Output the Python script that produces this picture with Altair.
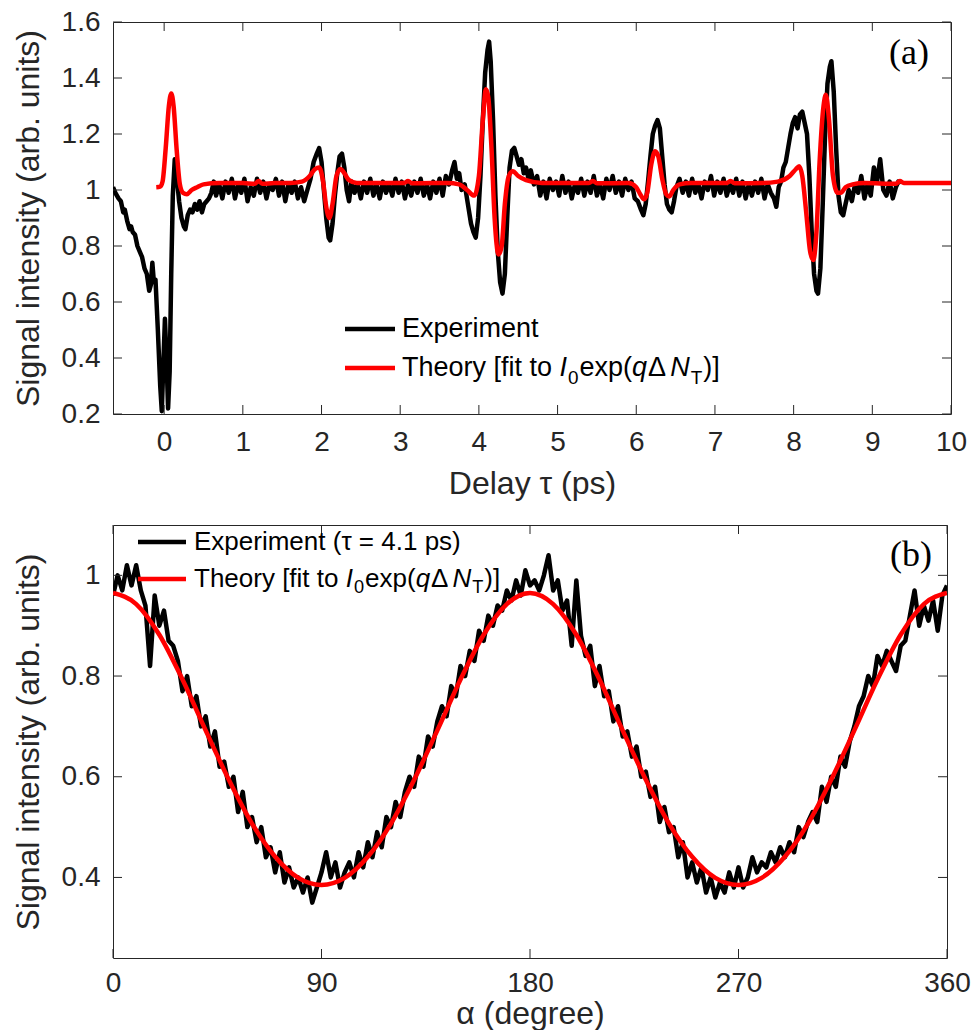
import altair as alt
import pandas as pd

# ---------------- Panel (a): signal vs delay ----------------
A_EXP_T = [-0.65, -0.62, -0.58, -0.55, -0.52, -0.50, -0.47, -0.44, -0.42, -0.40,
           -0.37, -0.34, -0.31, -0.28, -0.25, -0.22, -0.19, -0.17, -0.15, -0.13,
           -0.11, -0.08, -0.05, -0.03, -0.01, 0.01, 0.03, 0.05, 0.07, 0.09,
           0.11, 0.135, 0.16, 0.19, 0.22, 0.25, 0.27, 0.30, 0.33, 0.36,
           0.39, 0.42, 0.45, 0.48, 0.51, 0.54, 0.57, 0.60, 0.63, 0.66,
           0.70, 0.74, 0.78, 0.82, 0.86, 0.90, 0.94, 0.98, 1.02, 1.06,
           1.10, 1.14, 1.18, 1.22, 1.26, 1.30, 1.34, 1.38, 1.42, 1.46,
           1.50, 1.54, 1.58, 1.62, 1.66, 1.70, 1.74, 1.78, 1.82, 1.86,
           1.90, 1.94, 1.97, 2.00, 2.03, 2.06, 2.09, 2.11, 2.14, 2.17,
           2.20, 2.23, 2.26, 2.29, 2.32, 2.35, 2.38, 2.42, 2.46, 2.50,
           2.54, 2.58, 2.62, 2.66, 2.70, 2.74, 2.78, 2.82, 2.86, 2.90,
           2.94, 2.98, 3.02, 3.06, 3.10, 3.14, 3.18, 3.22, 3.26, 3.30,
           3.34, 3.38, 3.42, 3.46, 3.50, 3.54, 3.58, 3.62, 3.66, 3.69,
           3.72, 3.75, 3.78, 3.82, 3.86, 3.90, 3.93, 3.96, 3.99, 4.02,
           4.05, 4.08, 4.11, 4.13, 4.15, 4.18, 4.21, 4.24, 4.27, 4.30,
           4.33, 4.36, 4.39, 4.42, 4.45, 4.48, 4.51, 4.54, 4.57, 4.60,
           4.63, 4.66, 4.70, 4.74, 4.78, 4.82, 4.86, 4.90, 4.94, 4.98,
           5.02, 5.06, 5.10, 5.14, 5.18, 5.22, 5.26, 5.30, 5.34, 5.38,
           5.42, 5.46, 5.50, 5.54, 5.58, 5.62, 5.66, 5.70, 5.74, 5.78,
           5.82, 5.86, 5.90, 5.94, 5.98, 6.02, 6.06, 6.09, 6.12, 6.15,
           6.18, 6.21, 6.24, 6.27, 6.30, 6.33, 6.36, 6.39, 6.42, 6.45,
           6.48, 6.51, 6.55, 6.59, 6.63, 6.67, 6.71, 6.75, 6.79, 6.83,
           6.87, 6.91, 6.95, 6.99, 7.03, 7.07, 7.11, 7.15, 7.19, 7.23,
           7.27, 7.31, 7.35, 7.39, 7.43, 7.47, 7.51, 7.55, 7.59, 7.63,
           7.67, 7.71, 7.75, 7.78, 7.81, 7.84, 7.87, 7.90, 7.93, 7.96,
           7.99, 8.02, 8.05, 8.08, 8.11, 8.14, 8.17, 8.20, 8.23, 8.26,
           8.29, 8.31, 8.34, 8.37, 8.40, 8.43, 8.46, 8.48, 8.51, 8.54,
           8.57, 8.60, 8.63, 8.66, 8.70, 8.74, 8.78, 8.82, 8.86, 8.90,
           8.94, 8.98, 9.02, 9.06, 9.10, 9.14, 9.18, 9.22, 9.26, 9.30,
           9.33, 9.35]
A_EXP_V = [1.01, 0.99, 0.97, 0.96, 0.92, 0.93, 0.89, 0.86, 0.87, 0.85,
           0.84, 0.80, 0.78, 0.76, 0.72, 0.70, 0.64, 0.66, 0.74, 0.67,
           0.68, 0.50, 0.30, 0.21, 0.38, 0.54, 0.40, 0.22, 0.35, 0.70,
           0.98, 1.11, 1.05, 0.96, 0.90, 0.87, 0.86, 0.91, 0.93, 0.92,
           0.95, 0.93, 0.96, 0.92, 0.95, 0.96, 0.97, 0.99, 1.03, 0.98,
           1.02, 0.97, 1.03, 0.99, 1.04, 0.97, 1.02, 0.99, 1.04, 0.96,
           1.01, 0.98, 1.04, 0.99, 1.03, 0.97, 1.02, 1.00, 1.04, 0.98,
           1.03, 0.96, 1.02, 0.99, 1.03, 0.97, 1.01, 0.96, 1.00, 1.04,
           1.10, 1.13, 1.15, 1.10, 1.00, 0.90, 0.83, 0.82, 0.88, 0.98,
           1.06, 1.12, 1.13, 1.08, 1.00, 0.96, 1.03, 0.99, 1.02, 0.97,
           1.03, 0.99, 1.04, 0.98, 1.02, 0.97, 1.03, 0.99, 1.02, 0.98,
           1.04, 0.99, 1.03, 0.97, 1.02, 0.98, 1.03, 0.99, 1.04, 0.98,
           1.02, 0.97, 1.03, 0.99, 1.04, 0.98, 1.05, 1.02, 1.07, 1.10,
           1.04, 1.06, 1.00, 1.02, 0.95, 0.88, 0.85, 0.83, 0.90, 1.05,
           1.25, 1.42, 1.50, 1.53, 1.46, 1.25, 0.98, 0.78, 0.67, 0.63,
           0.70, 0.90, 1.08, 1.14, 1.15, 1.12, 1.09, 1.11, 1.06, 1.08,
           1.04, 1.07, 1.02, 1.05, 0.98, 1.03, 0.97, 1.04, 1.00, 1.03,
           0.98, 1.05, 0.99, 1.03, 0.97, 1.02, 0.99, 1.04, 0.98, 1.03,
           0.99, 1.05, 0.98, 1.02, 0.97, 1.04, 1.00, 1.05, 0.99, 1.03,
           0.98, 1.04, 1.00, 1.03, 0.97, 0.96, 0.93, 0.91, 0.95, 1.03,
           1.12, 1.20, 1.23, 1.25, 1.22, 1.12, 1.02, 0.95, 0.93, 0.92,
           0.96, 1.01, 1.04, 0.99, 1.03, 0.98, 1.04, 0.99, 1.02, 0.97,
           1.03, 1.00, 1.05, 0.98, 1.03, 0.99, 1.04, 0.98, 1.02, 0.99,
           1.04, 0.98, 1.03, 0.97, 1.02, 0.98, 1.03, 0.99, 1.04, 0.97,
           1.02, 0.99, 0.97, 0.94, 1.01, 1.03, 1.08, 1.10, 1.15, 1.20,
           1.24, 1.26, 1.22, 1.27, 1.28, 1.24, 1.20, 1.05, 0.85, 0.70,
           0.64, 0.63, 0.72, 0.95, 1.20, 1.38, 1.44, 1.46, 1.35, 1.15,
           0.98, 0.92, 0.91, 0.95, 1.00, 0.96, 1.02, 0.99, 1.05, 0.97,
           1.02, 0.98, 1.08, 1.03, 1.11, 1.00, 0.98, 1.03, 0.97, 1.01,
           1.03, 1.02]

A_TH_T = [-0.10, -0.05, -0.02, 0.02, 0.06, 0.09, 0.12, 0.16, 0.20, 0.24,
          0.29, 0.35, 0.42, 0.50, 0.70, 1.00, 1.15, 1.20, 1.25, 1.40,
          1.60, 1.75, 1.85, 1.92, 1.97, 2.02, 2.06, 2.10, 2.14, 2.19,
          2.24, 2.29, 2.35, 2.45, 2.70, 3.05, 3.10, 3.15, 3.40, 3.60,
          3.75, 3.85, 3.94, 4.00, 4.05, 4.09, 4.12, 4.16, 4.20, 4.25,
          4.29, 4.33, 4.38, 4.43, 4.50, 4.60, 4.80, 5.40, 5.45, 5.50,
          5.90, 6.00, 6.05, 6.10, 6.14, 6.19, 6.24, 6.28, 6.33, 6.38,
          6.42, 6.47, 6.55, 6.70, 7.15, 7.20, 7.25, 7.60, 7.80, 7.95,
          8.03, 8.07, 8.11, 8.16, 8.21, 8.25, 8.29, 8.33, 8.38, 8.41,
          8.45, 8.50, 8.56, 8.60, 8.66, 8.75, 8.90, 9.30, 9.35, 9.40,
          10.0]
A_TH_V = [1.010, 1.012, 1.030, 1.150, 1.300, 1.345, 1.300, 1.140, 1.020, 0.990,
          0.985, 1.000, 1.010, 1.020, 1.025, 1.025, 1.022, 1.032, 1.022, 1.025,
          1.025, 1.030, 1.050, 1.075, 1.080, 1.030, 0.940, 0.900, 0.950, 1.050,
          1.075, 1.060, 1.035, 1.025, 1.025, 1.025, 1.032, 1.024, 1.025, 1.025,
          1.020, 1.000, 0.980, 1.050, 1.250, 1.360, 1.330, 1.150, 0.900, 0.770,
          0.800, 0.950, 1.050, 1.067, 1.050, 1.035, 1.025, 1.025, 1.032, 1.024,
          1.025, 1.010, 0.985, 0.967, 0.990, 1.090, 1.138, 1.120, 1.040, 0.985,
          0.977, 1.000, 1.020, 1.025, 1.025, 1.032, 1.024, 1.025, 1.030, 1.050,
          1.075, 1.085, 1.050, 0.920, 0.780, 0.750, 0.850, 1.100, 1.300, 1.340,
          1.250, 1.050, 0.990, 0.990, 1.010, 1.020, 1.025, 1.022, 1.032, 1.025,
          1.025]

A_XTICKS = [0, 1, 2, 3, 4, 5, 6, 7, 8, 9, 10]
A_YTICKS = [0.2, 0.4, 0.6, 0.8, 1.0, 1.2, 1.4, 1.6]

# ---------------- Panel (b): signal vs angle ----------------
B_EXP_ALPHA = list(range(0, 361, 2))
B_EXP_V = [0.96, 1.00, 0.97, 1.02, 0.98, 1.02, 0.97, 0.94, 0.82, 0.96, 0.90,
           0.93, 0.87, 0.86, 0.83, 0.77, 0.80, 0.74, 0.76, 0.70, 0.72,
           0.66, 0.69, 0.62, 0.63, 0.58, 0.60, 0.53, 0.57, 0.50, 0.52,
           0.47, 0.50, 0.44, 0.46, 0.41, 0.45, 0.39, 0.42, 0.38, 0.40,
           0.37, 0.40, 0.35, 0.38, 0.41, 0.45, 0.40, 0.43, 0.38, 0.41,
           0.43, 0.40, 0.45, 0.42, 0.47, 0.44, 0.49, 0.46, 0.52, 0.50,
           0.55, 0.52, 0.57, 0.60, 0.58, 0.64, 0.62, 0.68, 0.66, 0.71,
           0.74, 0.72, 0.78, 0.76, 0.82, 0.80, 0.85, 0.83, 0.89, 0.87,
           0.92, 0.90, 0.94, 0.93, 0.97, 0.95, 0.99, 0.96, 1.01, 0.98,
           0.99, 0.97, 1.00, 1.04, 0.97, 0.99, 0.93, 0.95, 0.86, 0.99,
           0.88, 0.84, 0.86, 0.78, 0.82, 0.76, 0.77, 0.71, 0.74, 0.68,
           0.69, 0.64, 0.66, 0.60, 0.61, 0.56, 0.58, 0.51, 0.54, 0.49,
           0.50, 0.44, 0.47, 0.40, 0.43, 0.39, 0.42, 0.37, 0.40, 0.36,
           0.39, 0.37, 0.41, 0.38, 0.42, 0.38, 0.40, 0.44, 0.41, 0.43,
           0.42, 0.45, 0.43, 0.46, 0.44, 0.47, 0.45, 0.50, 0.48, 0.51,
           0.53, 0.51, 0.58, 0.55, 0.60, 0.58, 0.64, 0.62, 0.67, 0.70,
           0.74, 0.76, 0.80, 0.78, 0.84, 0.82, 0.85, 0.83, 0.81, 0.86,
           0.87, 0.92, 0.97, 0.90, 0.94, 0.91, 0.95, 0.89, 0.96, 0.98]
B_TH_ALPHA = [0, 10, 20, 30, 40, 50, 60, 70, 80, 90,
              100, 110, 120, 130, 140, 150, 160, 170, 180,
              190, 200, 210, 220, 230, 240, 250, 260, 270,
              280, 290, 300, 310, 320, 330, 340, 350, 360]
B_TH_V = [0.965, 0.943, 0.882, 0.793, 0.692, 0.594, 0.507, 0.441, 0.399, 0.385,
          0.399, 0.441, 0.507, 0.594, 0.692, 0.793, 0.882, 0.943, 0.965,
          0.943, 0.882, 0.793, 0.692, 0.594, 0.507, 0.441, 0.399, 0.385,
          0.399, 0.441, 0.507, 0.594, 0.692, 0.793, 0.882, 0.943, 0.965]
B_XTICKS = [0, 90, 180, 270, 360]
B_YTICKS = [0.4, 0.6, 0.8, 1.0]

# ---------------- styling ----------------
AX = "#262626"
FONT = "Liberation Sans"
RED = "#ff0000"
TICK_LEN = 9
LW = 4.5

W = {" ": .278, "[": .278, "]": .278, "(": .333, ")": .333, "T": .611, "h": .556,
     "e": .556, "o": .556, "r": .333, "y": .5, "f": .278, "i": .222, "t": .278,
     "x": .5, "p": .556, "0": .556, "I": .278, "q": .556, "N": .722, "Δ": .668}


def tw(s, fs):
    return sum(W.get(c, .55) for c in s) * fs


dummy = pd.DataFrame({"k": [0]})


def txt(s, x, y, fs=26, style="normal", color="#000000", font=FONT, align="left"):
    return alt.Chart(dummy).mark_text(
        text=s, font=font, fontSize=fs, fontStyle=style, align=align,
        baseline="middle", color=color
    ).encode(x=alt.value(x), y=alt.value(y))


def seg(x1, x2, y, color):
    return alt.Chart(dummy).mark_rule(color=color, strokeWidth=LW).encode(
        x=alt.value(x1), x2=alt.value(x2), y=alt.value(y))


def theory_label(x0, y, fs):
    sub = fs * 0.7
    parts = []
    x = x0
    parts.append(txt("Theory [fit to", x, y, fs=fs)); x += tw("Theory [fit to ", fs)
    parts.append(txt("I", x, y, fs=fs, style="italic")); x += tw("I", fs) + 1
    parts.append(txt("0", x, y + 0.36 * fs, fs=sub)); x += tw("0", sub) + 1
    parts.append(txt("exp(", x, y, fs=fs)); x += tw("exp(", fs)
    parts.append(txt("q", x, y, fs=fs, style="italic")); x += tw("q", fs) + 1
    parts.append(txt("Δ", x, y, fs=fs)); x += tw("Δ", fs) + 4
    parts.append(txt("N", x, y, fs=fs, style="italic")); x += tw("N", fs) + 1
    parts.append(txt("T", x, y + 0.36 * fs, fs=sub)); x += tw("T", sub) + 1
    parts.append(txt(")]", x, y, fs=fs))
    return parts


def make_panel(exp_df, th_df, xf, xticks, yticks, xscale, yscale, xaxis, yaxis, w, h, extra):
    X = lambda f: alt.X(f, scale=xscale, axis=xaxis)
    Y = lambda f: alt.Y(f, scale=yscale, axis=yaxis)
    exp = alt.Chart(exp_df).mark_line(color="#000000", strokeWidth=LW, strokeJoin="round", clip=True).encode(
        x=X(f"{xf}:Q"), y=Y("v:Q"))
    th = alt.Chart(th_df).mark_line(color=RED, strokeWidth=LW, strokeJoin="round", clip=True,
                                    interpolate="monotone").encode(x=X(f"{xf}:Q"), y=Y("v:Q"))
    dx = pd.DataFrame({xf: xticks})
    dy = pd.DataFrame({"v": yticks})
    tk = [
        alt.Chart(dx).mark_rule(color=AX, strokeWidth=1).encode(x=X(f"{xf}:Q"), y=alt.value(h), y2=alt.value(h - TICK_LEN)),
        alt.Chart(dx).mark_rule(color=AX, strokeWidth=1).encode(x=X(f"{xf}:Q"), y=alt.value(0), y2=alt.value(TICK_LEN)),
        alt.Chart(dy).mark_rule(color=AX, strokeWidth=1).encode(y=Y("v:Q"), x=alt.value(0), x2=alt.value(TICK_LEN)),
        alt.Chart(dy).mark_rule(color=AX, strokeWidth=1).encode(y=Y("v:Q"), x=alt.value(w - TICK_LEN), x2=alt.value(w)),
    ]
    return alt.layer(exp, th, *tk, *extra).properties(width=w, height=h)


# ---------------- Panel (a) ----------------
WA, HA = 838, 392
xa = alt.Scale(domain=[-0.65, 10], nice=False, zero=False)
ya = alt.Scale(domain=[0.2, 1.6], nice=False, zero=False)
xa_axis = alt.Axis(values=A_XTICKS, format="d", title="Delay τ (ps)", labelFlush=False,
                   labelOverlap=False, labelPadding=14, titlePadding=12)
ya_axis = alt.Axis(values=A_YTICKS, format=".1~f", title="Signal intensity (arb. units)",
                   labelOverlap=False, labelPadding=13, titlePadding=16)

a_extra = [seg(232, 282, 307, "#000000"), seg(232, 282, 346, RED), txt("Experiment", 289, 307, fs=27)]
a_extra += theory_label(289, 346, 27)
a_extra += [txt("(a)", WA - 22, 31, fs=36, font="Liberation Serif", align="right")]
panel_a = make_panel(pd.DataFrame({"t": A_EXP_T, "v": A_EXP_V}), pd.DataFrame({"t": A_TH_T, "v": A_TH_V}),
                     "t", A_XTICKS, A_YTICKS, xa, ya, xa_axis, ya_axis, WA, HA, a_extra)

# ---------------- Panel (b) ----------------
WB, HB = 834, 433
xb = alt.Scale(domain=[0, 360], nice=False, zero=False)
yb = alt.Scale(domain=[0.24, 1.1], nice=False, zero=False)
xb_axis = alt.Axis(values=B_XTICKS, format="d", title="α (degree)", labelFlush=False,
                   labelOverlap=False, labelPadding=11, titlePadding=1)
yb_axis = alt.Axis(values=B_YTICKS, format=".1~f", title="Signal intensity (arb. units)",
                   labelOverlap=False, labelPadding=13, titlePadding=16)

b_extra = [seg(25, 73, 17, "#000000"), seg(25, 73, 54, RED), txt("Experiment (τ = 4.1 ps)", 81, 17, fs=26)]
b_extra += theory_label(81, 54, 26)
b_extra += [txt("(b)", WB - 15, 30, fs=36, font="Liberation Serif", align="right")]
panel_b = make_panel(pd.DataFrame({"a": B_EXP_ALPHA, "v": B_EXP_V}), pd.DataFrame({"a": B_TH_ALPHA, "v": B_TH_V}),
                     "a", B_XTICKS, B_YTICKS, xb, yb, xb_axis, yb_axis, WB, HB, b_extra)

chart = alt.vconcat(panel_a, panel_b, spacing=24).properties(
    padding={"left": 11, "top": 7, "right": 5, "bottom": 0}
).configure_view(
    stroke=AX, strokeWidth=1
).configure_axis(
    labelFont=FONT, labelFontSize=28, labelColor=AX,
    titleFont=FONT, titleFontSize=32, titleFontWeight="normal", titleColor=AX,
    domain=False, ticks=False, grid=False
)

chart.save("out.html", embed_options={"renderer": "svg", "actions": False})
